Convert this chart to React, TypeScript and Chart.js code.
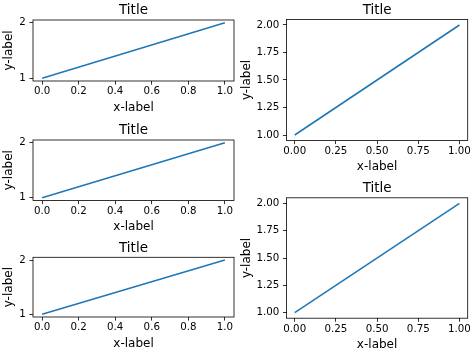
import React, { useEffect, useRef } from 'react';
import { Chart, registerables } from 'chart.js';

Chart.register(...registerables);

// ---- data ----
const xValues = [0, 1];
const yValues = [1, 2];
const xTicksSmall = [0, 0.2, 0.4, 0.6, 0.8, 1.0];
const yTicksSmall = [1, 2];
const xTicksLarge = [0, 0.25, 0.5, 0.75, 1.0];
const yTicksLarge = [1, 1.25, 1.5, 1.75, 2.0];
const titleText = 'Title';
const xLabelText = 'x-label';
const yLabelText = 'y-label';

// ---- layout (figure pixels) ----
const FIG_W = 474;
const FIG_H = 355;
const FONT = 'DejaVu Sans';
const TEXT_COLOR = '#000';
const LABEL_SIZE = 12;
const TITLE_SIZE = 13.5;
const TICK_SIZE = 10.28;

type PanelCfg = {
  frame: [number, number, number, number];
  yW: number;
  xTicks: number[];
  yTicks: number[];
  xDec: number;
  yDec: number;
};

const panels: PanelCfg[] = [
  { frame: [33, 20, 234, 81], yW: 30, xTicks: xTicksSmall, yTicks: yTicksSmall, xDec: 1, yDec: 0 },
  { frame: [33, 140, 234, 200.5], yW: 30, xTicks: xTicksSmall, yTicks: yTicksSmall, xDec: 1, yDec: 0 },
  { frame: [33, 257.3, 234, 317], yW: 30, xTicks: xTicksSmall, yTicks: yTicksSmall, xDec: 1, yDec: 0 },
  { frame: [286.5, 19.5, 467.7, 140.5], yW: 46, xTicks: xTicksLarge, yTicks: yTicksLarge, xDec: 2, yDec: 2 },
  { frame: [286.5, 197.8, 467.7, 318.2], yW: 46, xTicks: xTicksLarge, yTicks: yTicksLarge, xDec: 2, yDec: 2 },
];

const framePlugin = {
  id: 'frameAndTitle',
  afterDraw(chart: any) {
    const { ctx, chartArea } = chart;
    const { left, top, right, bottom } = chartArea;
    ctx.save();
    ctx.strokeStyle = '#000';
    ctx.lineWidth = 0.8;
    ctx.strokeRect(left, top, right - left, bottom - top);
    ctx.fillStyle = TEXT_COLOR;
    ctx.font = `${TITLE_SIZE}px "${FONT}"`;
    ctx.textAlign = 'center';
    ctx.textBaseline = 'alphabetic';
    ctx.fillText(titleText, (left + right) / 2, top - 5.7);
    ctx.restore();
  },
};

function Panel({ cfg }: { cfg: PanelCfg }) {
  const ref = useRef<HTMLCanvasElement | null>(null);
  useEffect(() => {
    const [L, T, R, B] = cfg.frame;
    const xH = 32.5;
    const xMin = Math.min(...xValues);
    const xMax = Math.max(...xValues);
    const yMin = Math.min(...yValues);
    const yMax = Math.max(...yValues);
    const xm = (xMax - xMin) * 0.05;
    const ym = (yMax - yMin) * 0.05;
    const tickFont = { family: FONT, size: TICK_SIZE };
    const titleFont = { family: FONT, size: LABEL_SIZE, lineHeight: 1 };
    const grid = {
      display: true,
      drawOnChartArea: false,
      drawTicks: true,
      tickLength: 3.6,
      tickWidth: 0.8,
      tickColor: '#000',
    };
    const chart = new Chart(ref.current as HTMLCanvasElement, {
      type: 'scatter',
      data: {
        datasets: [
          {
            data: xValues.map((x, i) => ({ x, y: yValues[i] })),
            showLine: true,
            borderColor: '#1f77b4',
            backgroundColor: '#1f77b4',
            borderWidth: 1.54,
            pointRadius: 0,
            pointHoverRadius: 0,
            fill: false,
          },
        ],
      },
      options: {
        responsive: false,
        animation: false,
        devicePixelRatio: 1,
        events: [],
        layout: {
          padding: { left: L - cfg.yW, top: T, right: FIG_W - R, bottom: FIG_H - B - xH },
        },
        plugins: {
          legend: { display: false },
          tooltip: { enabled: false },
          title: { display: false },
        },
        scales: {
          x: {
            type: 'linear',
            position: 'bottom',
            min: xMin - xm,
            max: xMax + xm,
            afterBuildTicks: (s: any) => {
              s.ticks = cfg.xTicks.map((v) => ({ value: v }));
            },
            afterFit: (s: any) => {
              s.height = xH;
            },
            ticks: {
              font: tickFont,
              color: TEXT_COLOR,
              padding: 1,
              maxRotation: 0,
              autoSkip: false,
              callback: (v: any) => Number(v).toFixed(cfg.xDec),
            },
            grid,
            border: { display: false },
            title: { display: true, text: xLabelText, font: titleFont, color: TEXT_COLOR, padding: 0 },
          },
          y: {
            type: 'linear',
            position: 'left',
            min: yMin - ym,
            max: yMax + ym,
            afterBuildTicks: (s: any) => {
              s.ticks = cfg.yTicks.map((v) => ({ value: v }));
            },
            afterFit: (s: any) => {
              s.width = cfg.yW;
            },
            ticks: {
              font: tickFont,
              color: TEXT_COLOR,
              padding: 3.6,
              autoSkip: false,
              callback: (v: any) => Number(v).toFixed(cfg.yDec),
            },
            grid,
            border: { display: false },
            title: { display: true, text: yLabelText, font: titleFont, color: TEXT_COLOR, padding: 0 },
          },
        },
      },
      plugins: [framePlugin],
    } as any);
    return () => chart.destroy();
  }, [cfg]);
  return (
    <canvas
      ref={ref}
      width={FIG_W}
      height={FIG_H}
      style={{ position: 'absolute', left: 0, top: 0, width: FIG_W, height: FIG_H }}
    />
  );
}

export default function App() {
  return (
    <div
      style={{
        position: 'fixed',
        left: 0,
        top: 0,
        width: FIG_W,
        height: FIG_H,
        background: '#fff',
        overflow: 'hidden',
      }}
    >
      {panels.map((p, i) => (
        <Panel key={i} cfg={p} />
      ))}
    </div>
  );
}
